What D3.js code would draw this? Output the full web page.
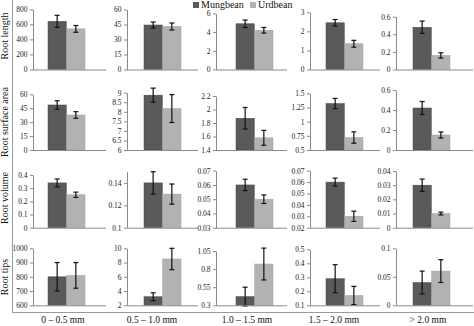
<!DOCTYPE html>
<html><head><meta charset="utf-8">
<script src="https://cdn.jsdelivr.net/npm/d3@7"></script>
<style>html,body{margin:0;padding:0;background:#fff;}svg{display:block;}</style>
</head><body>
<svg id="c" width="474" height="326"></svg>
<script>
const categories = ["0 – 0.5 mm", "0.5 – 1.0 mm", "1.0 – 1.5 mm", "1.5 – 2.0 mm", "> 2.0 mm"];
const traits = ["Root length", "Root surface area", "Root volume", "Root tips"];
const series = ["Mungbean", "Urdbean"];
const mungbean = [
  [640, 44.5, 4.9, 2.45, 0.48],
  [48.5, 8.87, 1.87, 1.32, 0.42],
  [0.34, 0.14, 0.06, 0.06, 0.03],
  [800, 3.2, 0.42, 0.29, 0.04]];
const mungbeanErr = [
  [80, 3, 0.4, 0.17, 0.07],
  [4.6, 0.37, 0.16, 0.09, 0.065],
  [0.03, 0.01, 0.004, 0.0035, 0.0043],
  [100, 0.55, 0.13, 0.1, 0.02]];
const urdbean = [
  [540, 43, 4.2, 1.35, 0.16],
  [37.7, 8.17, 1.58, 0.72, 0.15],
  [0.25, 0.13, 0.05, 0.03, 0.01],
  [810, 8.5, 0.87, 0.17, 0.06]];
const urdbeanErr = [
  [45, 3.5, 0.3, 0.18, 0.03],
  [3.6, 0.73, 0.11, 0.1, 0.03],
  [0.02, 0.009, 0.003, 0.0045, 0.001],
  [90, 1.5, 0.22, 0.065, 0.02]];
const yDomains = [
  [[0, 800], [0, 60], [0, 6], [0, 3], [0, 0.6]],
  [[0, 60], [6, 9], [1.4, 2.2], [0.5, 1.5], [0, 0.6]],
  [[0, 0.4], [0.1, 0.15], [0.03, 0.07], [0.02, 0.07], [0, 0.04]],
  [[600, 1000], [2, 10], [0.3, 1.05], [0.1, 0.5], [0, 0.1]]];
const yTicks = [
  [[0, 200, 400, 600, 800], [0, 15, 30, 45, 60], [0, 2, 4, 6], [0, 1, 2, 3], [0, 0.2, 0.4, 0.6]],
  [[0, 15, 30, 45, 60], [6, 6.5, 7, 7.5, 8, 8.5, 9], [1.4, 1.6, 1.8, 2, 2.2], [0.5, 0.75, 1, 1.25, 1.5], [0, 0.2, 0.4, 0.6]],
  [[0, 0.1, 0.2, 0.3, 0.4], [0.1, 0.12, 0.14], [0.03, 0.04, 0.05, 0.06, 0.07], [0.02, 0.03, 0.04, 0.05, 0.06, 0.07], [0, 0.01, 0.02, 0.03, 0.04]],
  [[600, 700, 800, 900, 1000], [2, 4, 6, 8, 10], [0.3, 0.55, 0.8, 1.05], [0.1, 0.2, 0.3, 0.4, 0.5], [0, 0.05, 0.1]]];

// layout
const colX = [33, 127, 216, 310, 396];
const colEnd = [106, 198, 287, 380, 473];
const barOff = [15, 17, 20, 16, 17];
const barSpan = 37;
const rowBottom = [69.5, 150, 227.7, 305.3];
const panelTop = [
  [9.3, 9.5, 13.5, 12.3, 16.7],
  [94.3, 92.7, 96, 93.3, 90],
  [175, 171.7, 170.7, 170.7, 171],
  [248.3, 248.3, 251, 249.3, 248.3]];
const labelX = [63, 152, 247, 334, 428];
const rowLabelY = [36, 122, 198, 277];
const colors = {Mungbean: "#5a5a5a", Urdbean: "#b2b2b2"};
const font = "'Liberation Serif','Times New Roman',serif";
const axisColor = "#8a8a8a";

const svg = d3.select("#c");
const fmt = d => String(+d.toFixed(4));

// frame lines
svg.append("line").attr("x1", 12.5).attr("x2", 12.5).attr("y1", 0).attr("y2", 312.5)
  .attr("stroke", "#9a9a9a").attr("stroke-width", 1);
svg.append("line").attr("x1", 12.5).attr("x2", 474).attr("y1", 312.5).attr("y2", 312.5)
  .attr("stroke", "#9a9a9a").attr("stroke-width", 1);

const data = [mungbean, urdbean];
const errs = [mungbeanErr, urdbeanErr];

traits.forEach((trait, r) => {
  categories.forEach((cat, c) => {
    const y = d3.scaleLinear().domain(yDomains[r][c]).range([rowBottom[r], panelTop[r][c]]);
    const x = d3.scaleBand().domain(series).range([colX[c] + barOff[c], colX[c] + barOff[c] + barSpan]).paddingInner(0.02);
    const g = svg.append("g");
    const base = yDomains[r][c][0];
    series.forEach((s, si) => {
      const v = data[si][r][c], e = errs[si][r][c];
      g.append("rect").attr("x", x(s)).attr("width", x.bandwidth())
        .attr("y", y(v)).attr("height", y(base) - y(v)).attr("fill", colors[s])
        .attr("stroke", si === 0 ? "#4a4a4a" : "#a0a0a0").attr("stroke-width", 0.5);
      const cx = x(s) + x.bandwidth() / 2;
      g.append("line").attr("x1", cx).attr("x2", cx).attr("y1", y(v + e)).attr("y2", y(v - e))
        .attr("stroke", "#111").attr("stroke-width", 1.2);
      [v + e, v - e].forEach(t => g.append("line").attr("x1", cx - 2.5).attr("x2", cx + 2.5)
        .attr("y1", y(t)).attr("y2", y(t)).attr("stroke", "#111").attr("stroke-width", 1.2));
    });
    const ax = g.append("g").attr("transform", `translate(${colX[c]},0)`)
      .call(d3.axisLeft(y).tickValues(yTicks[r][c]).tickFormat(fmt).tickSize(3).tickPadding(2.5).tickSizeOuter(0));
    ax.select(".domain").attr("stroke", axisColor);
    ax.selectAll(".tick line").attr("stroke", axisColor);
    ax.selectAll("text").attr("font-family", font).attr("font-size", 7.5).attr("fill", "#222");
    g.append("line").attr("x1", colX[c]).attr("x2", colEnd[c]).attr("y1", y(base) + 0.5).attr("y2", y(base) + 0.5)
      .attr("stroke", axisColor).attr("stroke-width", 1);
  });
  svg.append("text").attr("transform", `translate(8,${rowLabelY[r]}) rotate(-90)`)
    .attr("text-anchor", "middle").attr("font-family", font).attr("font-size", 10).attr("fill", "#111")
    .text(trait);
});

categories.forEach((cat, c) => {
  svg.append("text").attr("x", labelX[c]).attr("y", 323).attr("text-anchor", "middle")
    .attr("font-family", font).attr("font-size", 9.5).attr("fill", "#111").text(cat);
});

// legend
const legX = [193, 250];
series.forEach((s, i) => {
  svg.append("rect").attr("x", legX[i]).attr("y", 2).attr("width", 6).attr("height", 6).attr("fill", colors[s]);
  svg.append("text").attr("x", legX[i] + 8).attr("y", 8).attr("font-family", font).attr("font-size", 10)
    .attr("fill", "#111").text(s);
});
</script>
</body></html>
